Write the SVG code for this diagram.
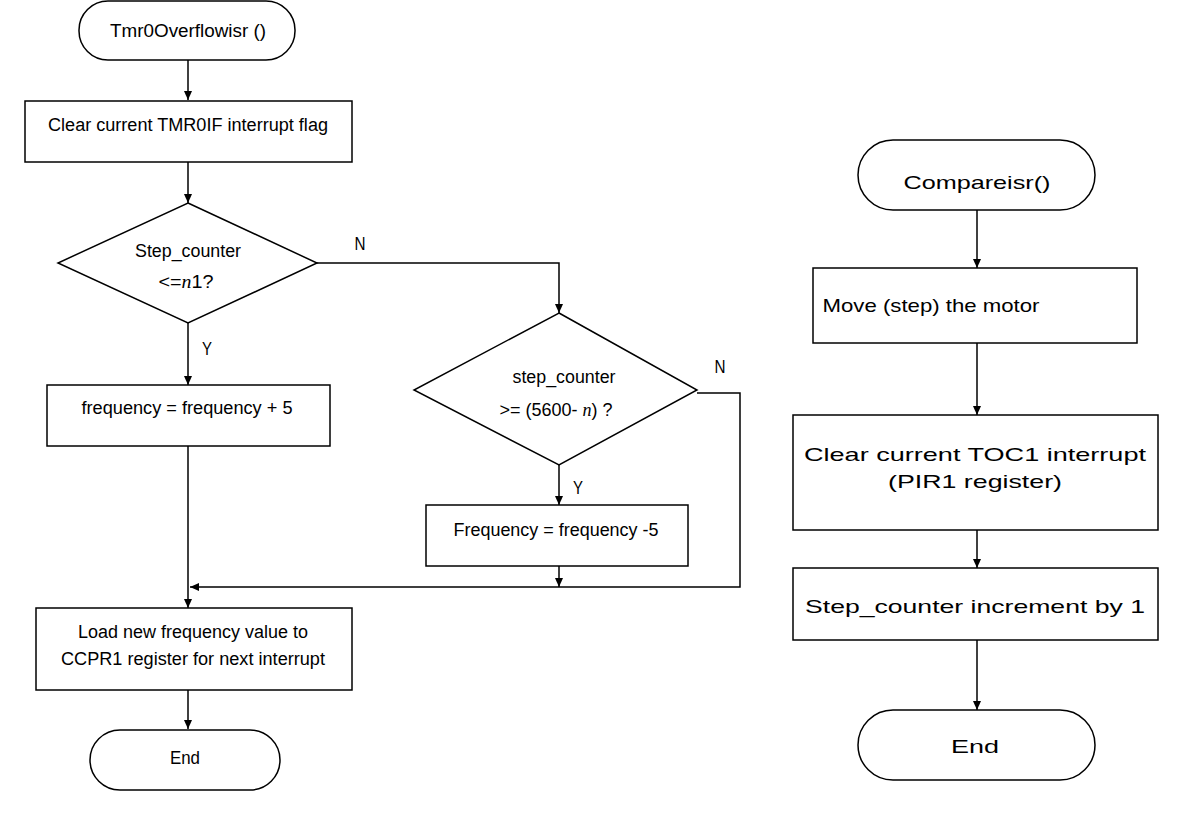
<svg xmlns="http://www.w3.org/2000/svg" width="1191" height="821" viewBox="0 0 1191 821">
<style>
.s{fill:#fff;stroke:#000;stroke-width:1.5}
.l{fill:none;stroke:#000;stroke-width:1.5}
.n{font-family:"Liberation Sans",Arial,sans-serif;font-size:18px;fill:#000;text-anchor:middle}
.r{font-family:"Liberation Sans",Arial,sans-serif;font-size:19px;fill:#000;text-anchor:middle}
</style>
<defs><marker id="a" markerWidth="10" markerHeight="10" refX="9" refY="5" orient="auto" markerUnits="userSpaceOnUse"><path d="M0,1 L9,5 L0,9 Z" fill="#000"/></marker></defs>
<rect width="1191" height="821" fill="#fff"/>
<g id="connectors">
<path class="l" d="M188,60 V100" marker-end="url(#a)"/>
<path class="l" d="M188,162 V203" marker-end="url(#a)"/>
<path class="l" d="M188,323 V385" marker-end="url(#a)"/>
<path class="l" d="M317,263 H559 V313" marker-end="url(#a)"/>
<path class="l" d="M559,465 V505" marker-end="url(#a)"/>
<path class="l" d="M697,393 H740 V587 H190" marker-end="url(#a)"/>
<path class="l" d="M559,566 V587" marker-end="url(#a)"/>
<path class="l" d="M188,446 V608" marker-end="url(#a)"/>
<path class="l" d="M188,690 V729" marker-end="url(#a)"/>
<path class="l" d="M977,210 V268" marker-end="url(#a)"/>
<path class="l" d="M977,343 V415" marker-end="url(#a)"/>
<path class="l" d="M977,530 V568" marker-end="url(#a)"/>
<path class="l" d="M977,640 V710" marker-end="url(#a)"/>
<text class="n" x="360" y="250" textLength="11" lengthAdjust="spacingAndGlyphs">N</text>
<text class="n" x="207" y="355" textLength="10" lengthAdjust="spacingAndGlyphs">Y</text>
<text class="n" x="720" y="373" textLength="11" lengthAdjust="spacingAndGlyphs">N</text>
<text class="n" x="578" y="494" textLength="10" lengthAdjust="spacingAndGlyphs">Y</text>
</g>
<g id="start1"><rect class="s" x="79" y="1" width="216" height="59" rx="29"/><text class="n" x="188" y="37" textLength="156" lengthAdjust="spacingAndGlyphs">Tmr0Overflowisr ()</text></g>
<g id="clear1"><rect class="s" x="25" y="101" width="327" height="61"/><text class="n" x="188" y="131" textLength="280" lengthAdjust="spacingAndGlyphs">Clear current TMR0IF interrupt flag</text></g>
<g id="dec1"><polygon class="s" points="188,203 317,263 188,323 58,263"/><text class="n" x="188" y="257" textLength="106" lengthAdjust="spacingAndGlyphs">Step_counter</text><text class="n" x="186" y="288" textLength="55" lengthAdjust="spacingAndGlyphs">&lt;=<tspan font-family="Liberation Serif" font-style="italic">n</tspan>1?</text></g>
<g id="inc"><rect class="s" x="47" y="385" width="283" height="61"/><text class="n" x="187" y="414" textLength="211" lengthAdjust="spacingAndGlyphs">frequency = frequency + 5</text></g>
<g id="dec2"><polygon class="s" points="559,313 697,390 559,465 414,390"/><text class="n" x="564" y="383" textLength="103" lengthAdjust="spacingAndGlyphs">step_counter</text><text class="n" x="556" y="416" textLength="113" lengthAdjust="spacingAndGlyphs">&gt;= (5600- <tspan font-family="Liberation Serif" font-style="italic">n</tspan>) ?</text></g>
<g id="dec"><rect class="s" x="426" y="505" width="262" height="61"/><text class="n" x="556" y="536" textLength="205" lengthAdjust="spacingAndGlyphs">Frequency = frequency -5</text></g>
<g id="load"><rect class="s" x="36" y="608" width="316" height="82"/><text class="n" x="193" y="638" textLength="230" lengthAdjust="spacingAndGlyphs">Load new frequency value to</text><text class="n" x="193" y="665" textLength="264" lengthAdjust="spacingAndGlyphs">CCPR1 register for next interrupt</text></g>
<g id="end1"><rect class="s" x="90" y="730" width="190" height="60" rx="30"/><text class="n" x="185" y="764" textLength="30" lengthAdjust="spacingAndGlyphs">End</text></g>
<g id="start2"><rect class="s" x="858" y="140" width="237" height="70" rx="35"/><text class="r" x="977" y="189" textLength="147" lengthAdjust="spacingAndGlyphs">Compareisr()</text></g>
<g id="move"><rect class="s" x="813" y="268" width="324" height="75"/><text class="r" x="931" y="312" textLength="217" lengthAdjust="spacingAndGlyphs">Move (step) the motor</text></g>
<g id="clear2"><rect class="s" x="793" y="415" width="365" height="115"/><text class="r" x="975" y="461" textLength="342" lengthAdjust="spacingAndGlyphs">Clear current TOC1 interrupt</text><text class="r" x="975" y="488" textLength="174" lengthAdjust="spacingAndGlyphs">(PIR1 register)</text></g>
<g id="stepinc"><rect class="s" x="793" y="568" width="365" height="72"/><text class="r" x="975" y="613" textLength="340" lengthAdjust="spacingAndGlyphs">Step_counter increment by 1</text></g>
<g id="end2"><rect class="s" x="858" y="710" width="237" height="70" rx="35"/><text class="r" x="975" y="753" textLength="48" lengthAdjust="spacingAndGlyphs">End</text></g>
</svg>
